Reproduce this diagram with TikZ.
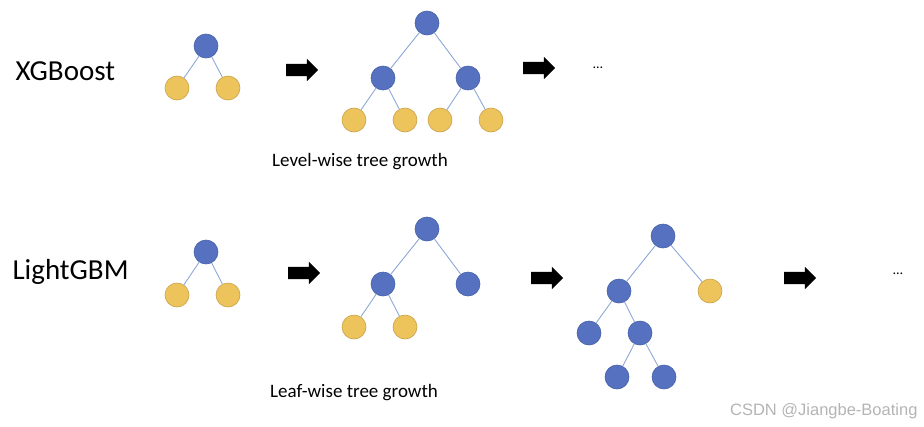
\documentclass[tikz,border=0pt]{standalone}
\usepackage{fontspec}
\setmainfont{Carlito}
\newfontfamily\markfont{Liberation Sans}
\usetikzlibrary{shapes.arrows}
\definecolor{nodeblue}{HTML}{5571BF}
\definecolor{nodeline}{HTML}{4662A8}
\definecolor{leafyellow}{HTML}{EDC35C}
\definecolor{leafline}{HTML}{C9A24A}
\definecolor{edgeblue}{HTML}{8EA8DA}
\definecolor{markgray}{HTML}{B4B4B4}

\begin{document}
\begin{tikzpicture}[x=1pt,y=-1pt,
        split/.style={circle,fill=nodeblue,draw=nodeline,line width=0.6pt,minimum size=24pt,inner sep=0pt},
        leaf/.style={split,fill=leafyellow,draw=leafline},
        edge/.style={draw=edgeblue,line width=0.9pt},
        growarrow/.style={single arrow,fill=black,minimum height=32pt,inner xsep=0pt,inner ysep=6pt,
                single arrow head extend=5pt},
        title/.style={anchor=west,font=\fontsize{29}{32}\selectfont},
        caption/.style={font=\fontsize{19}{22}\selectfont}]
        \useasboundingbox (0,0) rectangle (924,426);

        % row names
        \node[title] (xgb) at (12,71) {XGBoost};
        \node[title] (lgbm) at (9,272) {LightGBM};

        % XGBoost: first tree
        \node[split] (x1r) at (206,46) {};
        \node[leaf]  (x1a) at (177,88) {};
        \node[leaf]  (x1b) at (228,88) {};
        \draw[edge] (x1r) -- (x1a) (x1r) -- (x1b);

        \node[growarrow] (xarr1) at (299,70) {};

        % XGBoost: second tree
        \node[split] (x2r) at (427,23) {};
        \node[split] (x2a) at (383,78) {};
        \node[split] (x2b) at (468,78) {};
        \foreach \n/\x in {x2c/354,x2d/405,x2e/440,x2f/491}
                \node[leaf] (\n) at (\x,120) {};
        \draw[edge] (x2r) -- (x2a) (x2r) -- (x2b)
                    (x2a) -- (x2c) (x2a) -- (x2d)
                    (x2b) -- (x2e) (x2b) -- (x2f);

        \node[growarrow] (xarr2) at (536,68) {};
        \node[font=\fontsize{14}{16}\selectfont] (xdots) at (598,68) {\ldots};

        \node[caption] (xcap) at (360,162) {Level-wise tree growth};

        % LightGBM: first tree
        \node[split] (l1r) at (206,252) {};
        \node[leaf]  (l1a) at (177,295) {};
        \node[leaf]  (l1b) at (228,295) {};
        \draw[edge] (l1r) -- (l1a) (l1r) -- (l1b);

        \node[growarrow] (larr1) at (301,273) {};

        % LightGBM: second tree
        \node[split] (l2r) at (427,229) {};
        \node[split] (l2a) at (383,284) {};
        \node[split] (l2b) at (468,284) {};
        \node[leaf]  (l2c) at (354,327) {};
        \node[leaf]  (l2d) at (405,327) {};
        \draw[edge] (l2r) -- (l2a) (l2r) -- (l2b)
                    (l2a) -- (l2c) (l2a) -- (l2d);

        \node[growarrow] (larr2) at (544,278) {};

        % LightGBM: third tree
        \node[split] (l3r) at (663,236) {};
        \node[split] (l3a) at (619,291) {};
        \node[leaf]  (l3b) at (710,291) {};
        \node[split] (l3c) at (589,333) {};
        \node[split] (l3d) at (640,333) {};
        \node[split] (l3e) at (617,377) {};
        \node[split] (l3f) at (664,377) {};
        \draw[edge] (l3r) -- (l3a) (l3r) -- (l3b)
                    (l3a) -- (l3c) (l3a) -- (l3d)
                    (l3d) -- (l3e) (l3d) -- (l3f);

        \node[growarrow] (larr3) at (797,278) {};
        \node[font=\fontsize{14}{16}\selectfont] (ldots) at (898,274) {\ldots};

        \node[caption] (lcap) at (354,393) {Leaf-wise tree growth};

        \node[anchor=east,text=markgray,font=\markfont\fontsize{16.5}{18}\selectfont] (mark) at (921,411) {CSDN @Jiangbe-Boating};
\end{tikzpicture}
\end{document}
